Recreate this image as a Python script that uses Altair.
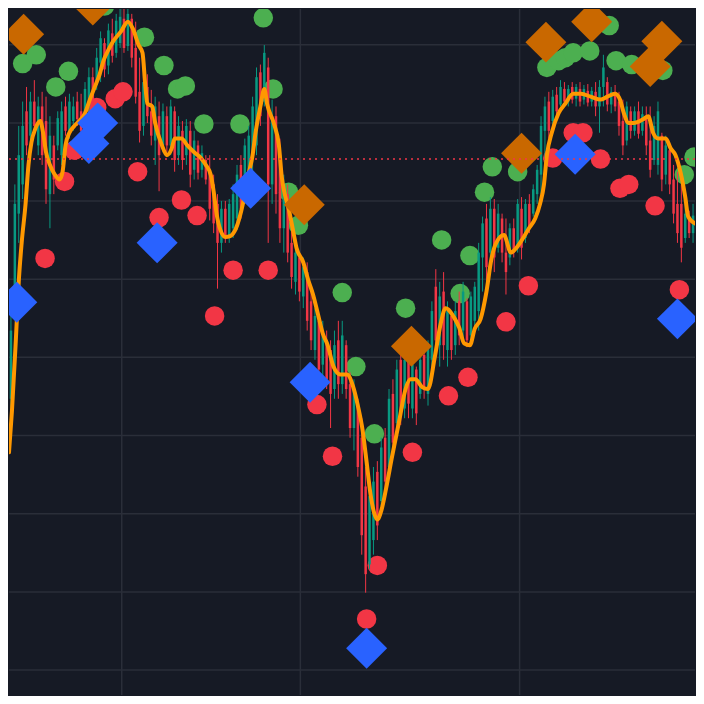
import altair as alt
import pandas as pd

# ---------------- data (price units; bar time units) ----------------
bar_t = [2 + 4 * k for k in range(176)]

highs = [404,524,584,609,624,619,631,614,619,614, 594,574,599,609,614,617,614,619,617,629,
         644,644,664,681,674,689,694,699,704,709, 709,699,691,654,644,637,621,614,609,607,
         604,611,604,594,589,591,589,579,569,564, 554,554,534,514,507,507,509,524,544,554,
         571,584,614,644,647,667,654,611,604,571, 534,524,477,464,454,449,444,414,397,387,
         384,374,364,374,384,384,364,331,324,304, 284,234,224,234,240,264,274,314,324,344,
         364,354,364,349,337,354,359,364,404,437, 424,434,404,394,404,414,424,407,414,424,
         464,491,504,511,509,504,494,489,484,489, 509,511,509,514,524,544,594,614,619,621,
         624,631,629,626,629,627,629,626,627,624, 629,631,657,634,624,626,619,611,609,604,
         604,609,604,604,604,594,609,577,574,564, 544,537,524,504,497,504]
lows = [284,404,464,509,554,564,574,554,544,504, 479,514,559,544,574,571,579,584,571,589,
        594,604,621,629,634,637,649,654,664,659, 661,644,607,567,574,587,564,544,517,557,
        554,554,537,544,539,544,521,529,529,531, 524,487,474,417,454,464,464,469,477,489,
        504,514,537,554,584,604,464,504,494,464, 454,444,417,411,404,397,374,354,344,324,
        324,314,274,304,304,309,304,264,251,224, 144,105,129,144,159,194,207,224,244,274,
        277,284,284,284,277,304,304,297,324,354, 337,344,337,344,349,359,364,357,359,374,
        374,414,424,444,434,454,444,411,441,449, 454,447,464,474,491,504,514,544,571,584,
        594,604,604,604,607,604,604,606,604,604, 594,577,604,599,597,599,574,554,564,571,
        574,571,574,554,531,544,534,517,524,514, 484,464,444,464,469,464]
opens = [304,414,494,524,599,574,609,564,604,589, 514,564,564,554,604,579,589,609,599,594,
         604,634,626,649,669,646,679,659,669,694, 666,694,664,619,584,624,599,569,594,564,
         594,564,599,554,579,554,579,539,564,539, 549,539,524,504,464,499,472,479,489,544,
         509,529,554,564,639,609,644,524,594,554, 479,514,464,424,449,409,434,404,354,384,
         339,364,354,314,364,319,359,319,274,299, 264,214,134,159,229,199,264,234,309,279,
         344,294,349,294,334,309,349,309,344,419, 359,414,354,389,359,404,374,404,369,384,
         394,449,489,454,499,459,489,454,449,479, 459,499,469,504,494,514,534,579,609,589,
         616,606,622,609,624,612,622,611,620,609, 619,604,624,629,606,619,609,589,569,599,
         579,599,579,594,569,549,544,574,534,559, 529,504,504,469,489,474]
closes = [374,504,554,584,564,609,584,604,554,519, 574,529,592,599,579,609,604,591,579,622,
          634,609,654,674,642,682,656,692,696,664, 699,654,614,579,629,594,574,604,554,599,
          564,604,549,584,549,584,534,569,536,556, 529,499,484,464,499,469,504,514,534,499,
          564,574,604,634,594,659,524,594,514,479, 524,454,429,454,414,439,384,364,389,334,
          374,324,309,359,319,369,314,274,314,234, 164,124,204,219,174,254,219,304,259,334,
          289,344,299,339,289,344,314,359,394,364, 409,359,394,354,394,369,414,364,409,419,
          454,484,439,499,449,494,454,434,479,454, 504,459,504,479,519,539,584,604,579,614,
          599,624,609,622,611,624,609,622,608,620, 604,624,644,606,619,604,584,564,604,579,
          599,576,596,564,539,584,599,529,564,524, 494,474,459,494,474,492]

ma_t = [0,3,7,10,13,17,20,23,27,32,35,38,42,47,52,55,58,62,67,72,78,83,88,93,97,102,107,115,
        122,127,133,137,140,142,147,150,157,162,167,170,177,183,190,197,202,207,210,213,217,222,
        227,233,240,245,250,253,258,262,265,272,277,280,283,287,292,295,302,307,312,317,322,327,
        333,340,347,353,358,363,367,371,375,378,382,387,393,400,407,412,417,424,430,437,443,448,
        457,462,467,473,478,484,490,495,500,508,515,520,527,533,540,545,549,552,557,564,571,579,
        587,597,607,614,622,627,631,636,641,651,656,661,666,674,679,684,689,694,697,704]
ma_v = [249,291,364,424,464,504,544,567,581,589,577,557,544,534,529,537,564,577,584,589,597,611,
        624,637,651,662,671,681,691,684,667,659,624,607,604,587,564,554,561,571,571,564,557,551,
        544,534,517,494,477,470,471,479,504,531,554,577,604,622,606,586,564,531,514,499,474,459,
        444,426,411,391,371,359,337,329,329,317,297,271,239,206,186,180,189,212,244,279,314,324,
        324,316,314,347,381,397,387,377,361,359,376,386,414,447,464,472,454,458,468,478,489,504,
        524,554,577,597,607,617,617,614,611,614,617,611,597,587,587,591,594,577,571,571,561,554,
        537,511,491,484]

green_t = [14,28,48,61,98,139,159,173,181,200,237,261,271,287,297,342,356,375,407,444,463,473,
           488,496,522,552,564,571,579,596,616,623,639,671,693,703]
green_v = [648,657,624,640,707,675,646,622,625,586,586,695,622,516,482,413,337,268,397,467,412,
           451,516,542,537,644,651,654,659,661,687,651,647,641,534,552]
red_t = [37,57,67,90,109,117,132,154,177,193,211,230,266,316,332,367,378,414,451,471,510,533,
         558,579,589,607,627,636,663,688]
red_v = [448,527,559,603,612,619,537,490,508,492,389,436,436,298,245,78,133,249,307,326,383,420,
         551,577,577,550,520,524,502,416]
blue_t = [8,82,91,152,248,309,367,581,686]
blue_v = [403,566,587,464,520,321,48,555,386]
orange_t = [15,86,303,413,526,551,598,670,658]
orange_v = [678,708,503,358,556,670,691,671,645]

alert_level = [550]
grid_t = [115.7, 299, 524]
grid_v = [667.3, 587.1, 506.9, 426.7, 346.5, 266.3, 186.0, 105.8, 25.6]

# ---------------- styling ----------------
BG = "#161a25"
GRID = "#2a2e39"
TEAL = "#089981"
RED = "#f23645"
GREEN = "#4caf50"
BLUE = "#2962ff"
ORANGE_D = "#c96800"
MA = "#ff9800"

bars = pd.DataFrame({"t": bar_t, "open": opens, "high": highs, "low": lows, "close": closes})
bars["dir"] = ["up" if c >= o else "down" for o, c in zip(opens, closes)]
ma = pd.DataFrame({"t": ma_t, "v": ma_v})
circles = pd.DataFrame({
    "t": green_t + red_t,
    "v": green_v + red_v,
    "kind": ["green"] * len(green_t) + ["red"] * len(red_t),
})
diamonds = pd.DataFrame({
    "t": blue_t + orange_t,
    "v": blue_v + orange_v,
    "kind": ["blue"] * len(blue_t) + ["orange"] * len(orange_t),
})
level = pd.DataFrame({"v": alert_level})
vgrid = pd.DataFrame({"t": grid_t})
hgrid = pd.DataFrame({"v": grid_v})

xs = alt.Scale(domain=[0, 704], nice=False, zero=False)
ys = alt.Scale(domain=[0, 704], nice=False, zero=False)
dir_color = alt.Color("dir:N", scale=alt.Scale(domain=["up", "down"], range=[TEAL, RED]), legend=None)

vgrid_layer = alt.Chart(vgrid).mark_rule(color=GRID, strokeWidth=1.5).encode(
    x=alt.X("t:Q", scale=xs, axis=None),
)
hgrid_layer = alt.Chart(hgrid).mark_rule(color=GRID, strokeWidth=1.5).encode(
    y=alt.Y("v:Q", scale=ys, axis=None),
)
circ_layer = alt.Chart(circles).mark_point(shape="circle", filled=True, size=380, opacity=1, clip=True).encode(
    x=alt.X("t:Q", scale=xs, axis=None),
    y=alt.Y("v:Q", scale=ys, axis=None),
    color=alt.Color("kind:N", scale=alt.Scale(domain=["green", "red"], range=[GREEN, RED]), legend=None),
)
wicks = alt.Chart(bars).mark_rule(strokeWidth=1, clip=True).encode(
    x=alt.X("t:Q", scale=xs, axis=None),
    y=alt.Y("low:Q", scale=ys, axis=None),
    y2="high:Q",
    color=dir_color,
)
bodies = alt.Chart(bars).mark_rule(strokeWidth=2.5, clip=True).encode(
    x=alt.X("t:Q", scale=xs, axis=None),
    y=alt.Y("open:Q", scale=ys, axis=None),
    y2="close:Q",
    color=dir_color,
)
ma_line = alt.Chart(ma).mark_line(color=MA, strokeWidth=4, interpolate="monotone", clip=True,
                                  strokeCap="round", strokeJoin="round").encode(
    x=alt.X("t:Q", scale=xs, axis=None),
    y=alt.Y("v:Q", scale=ys, axis=None),
)
diam_layer = alt.Chart(diamonds).mark_point(shape="diamond", filled=True, size=1680, opacity=1, clip=True).encode(
    x=alt.X("t:Q", scale=xs, axis=None),
    y=alt.Y("v:Q", scale=ys, axis=None),
    color=alt.Color("kind:N", scale=alt.Scale(domain=["blue", "orange"], range=[BLUE, ORANGE_D]), legend=None),
)
level_rule = alt.Chart(level).mark_rule(color=RED, strokeWidth=2, strokeDash=[2, 4], opacity=0.75).encode(
    y=alt.Y("v:Q", scale=ys, axis=None),
)

chart = alt.layer(vgrid_layer, hgrid_layer, circ_layer, wicks, bodies, ma_line, diam_layer, level_rule).resolve_scale(
    color="independent"
).properties(
    width=688, height=688, padding=0,
    autosize=alt.AutoSizeParams(type="fit", contains="padding"),
    background=BG,
).configure_view(stroke=None, fill=BG)

chart.save("out.html", embed_options={"renderer": "svg", "actions": False})
